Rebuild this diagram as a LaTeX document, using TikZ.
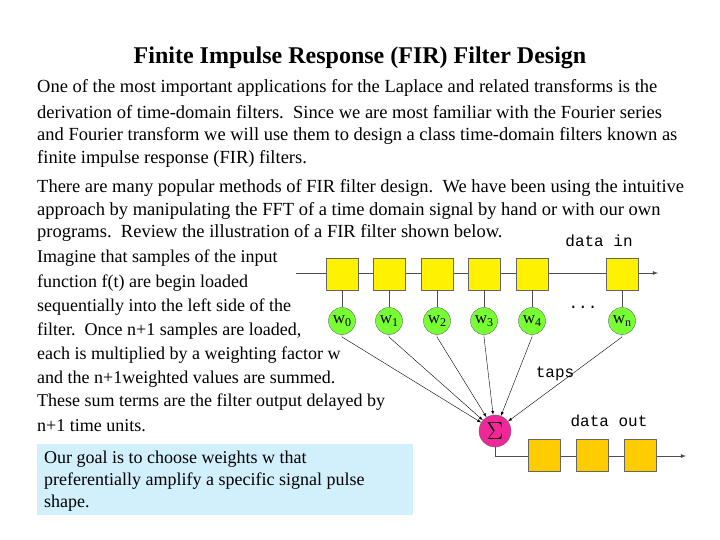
\documentclass[tikz,border=0pt]{standalone}
\usepackage{fontspec}
\setmainfont{Liberation Serif}
\setmonofont{Liberation Mono}
\begin{document}
\begin{tikzpicture}[x=1pt,y=-1pt,
  txt/.style={anchor=west,inner sep=0,font=\fontsize{18.5}{21}\selectfont},
  ltxt/.style={anchor=west,inner sep=0,font=\fontsize{18}{20}\selectfont},
  cell/.style={draw=black!60,fill=yellow,minimum width=32pt,minimum height=32pt,inner sep=0},
  ocell/.style={draw=black!60,fill=orange!40!yellow,minimum width=32pt,minimum height=32pt,inner sep=0},
  wt/.style={circle,draw=black!60,fill=green!55!lime!80!white,minimum size=27pt,inner sep=0,font=\fontsize{17}{17}\selectfont},
  lbl/.style={inner sep=0,font=\ttfamily\fontsize{16}{16}\selectfont},
  ln/.style={draw=black!70,thick},
  arr/.style={draw=black,-latex}]
\useasboundingbox (0,0) rectangle (720,540);
\node[inner sep=0,font=\bfseries\fontsize{24}{26}\selectfont] (title) at (360,58) {Finite Impulse Response (FIR) Filter Design};
\node[txt] (p1) at (37,88) {One of the most important applications for the Laplace and related transforms is the};
\node[txt] (p2) at (37,112) {derivation of time-domain filters.\ \ Since we are most familiar with the Fourier series};
\node[txt] (p3) at (37,136) {and Fourier transform we will use them to design a class time-domain filters known as};
\node[txt] (p4) at (37,159) {finite impulse response (FIR) filters.};
\node[txt] (q1) at (37,188) {There are many popular methods of FIR filter design.\ \ We have been using the intuitive};
\node[txt] (q2) at (37,211) {approach by manipulating the FFT of a time domain signal by hand or with our own};
\node[txt] (q3) at (37,233) {programs.\ \ Review the illustration of a FIR filter shown below.};
\node[ltxt] (l1) at (37,258) {Imagine that samples of the input};
\node[ltxt] (l2) at (37,283) {function f(t) are begin loaded};
\node[ltxt] (l3) at (37,307) {sequentially into the left side of the};
\node[ltxt] (l4) at (37,331) {filter.\ \ Once n+1 samples are loaded,};
\node[ltxt] (l5) at (37,355) {each is multiplied by a weighting factor w};
\node[ltxt] (l6) at (37,379) {and the n+1weighted values are summed.};
\node[ltxt] (l7) at (37,402) {These sum terms are the filter output delayed by};
\node[ltxt] (l8) at (37,426) {n+1 time units.};
\node[fill=cyan!18,anchor=north west,minimum width=376pt,minimum height=71pt] (goal) at (37,444) {};
\node[ltxt,align=left,anchor=north west] (gt) at (44,451) {Our goal is to choose weights w that\\[2pt]preferentially amplify a specific signal pulse\\[2pt]shape.};
% input line
\coordinate (in0) at (296,273);
\coordinate (in1) at (658,273);
\draw[ln,-latex] (in0) -- (in1);
\foreach \i/\x in {0/342,1/389,2/437,3/484,4/532,n/622}{
  \node[cell] (c\i) at (\x,274) {};
  \node[wt] (w\i) at (\x,321) {w\raisebox{-0.35ex}{\fontsize{12}{12}\selectfont\i}};
  \draw[ln] (c\i) -- (w\i);
  \coordinate (k\i) at (\x,337);
}
\node[circle,draw=black!60,fill=magenta!80!pink,minimum size=32pt,inner sep=0,font=\fontsize{26}{26}\selectfont] (sig) at (495,431) {$\Sigma$};
\foreach \i in {0,1,2,3,4,n}{ \draw[arr] (w\i.south) -- (k\i) -- (sig); }
\node[lbl] (din) at (599,241) {data in};
\node[lbl] (dots) at (583,307) {...};
\node[lbl] (taps) at (555,374) {taps};
\node[lbl] (dout) at (609,421) {data out};
\coordinate (o0) at (495,456);
\coordinate (o1) at (686,456);
\draw[ln,-latex] (sig.south) -- (o0) -- (o1);
\node[ocell] (d1) at (544,455) {};
\node[ocell] (d2) at (592,455) {};
\node[ocell] (d3) at (640,455) {};
\end{tikzpicture}
\end{document}
